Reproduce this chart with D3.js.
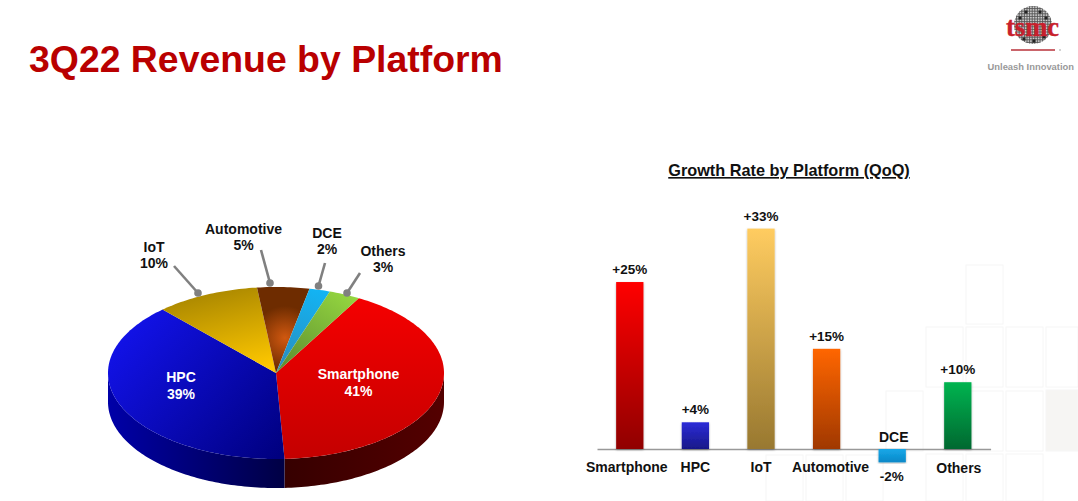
<!DOCTYPE html>
<html>
<head>
<meta charset="utf-8">
<script src="https://cdn.jsdelivr.net/npm/d3@7"></script>
<style>
  html, body { margin: 0; padding: 0; background: #fff; }
  svg { display: block; }
  text { font-family: "Liberation Sans", Arial, sans-serif; font-weight: bold; fill: #111; }
</style>
</head>
<body>
<svg width="1078" height="501"></svg>
<script>
// Chart data
const platforms = ['Smartphone', 'HPC', 'IoT', 'Automotive', 'DCE', 'Others']
const revenueShare = [41, 39, 10, 5, 2, 3]
const growthQoQ = [25, 4, 33, 15, -2, 10]
const growthLabels = ['+25%', '+4%', '+33%', '+15%', '-2%', '+10%']

// Pie colours per platform
const pieTop = [
  ['#f80000', '#c40000'], ['#1414f4', '#000080'], ['#b08c00', '#ffc800'],
  ['#6e2c00', '#d05810'], ['#12b4f4', '#2a8cbc'], ['#96d840', '#5c8c30']
]
const pieWall = [
  ['#540000', '#360000'], ['#000044', '#0000a8'], ['#806000', '#806000'],
  ['#501800', '#501800'], ['#0870a0', '#0870a0'], ['#407020', '#407020']
]
const barColors = [
  ['#ff0000', '#900000'], ['#2c2cd8', '#181888'], ['#ffcc60', '#987830'],
  ['#ff6600', '#a03800'], ['#18a8e8', '#0888c8'], ['#00b450', '#006830']
]

const svg = d3.select('svg')
const defs = svg.append('defs')

defs.append('filter').attr('id', 'barShadow')
  .attr('x', '-20%').attr('y', '-5%').attr('width', '140%').attr('height', '115%')
  .append('feDropShadow')
  .attr('dx', 0).attr('dy', 1).attr('stdDeviation', 1.2)
  .attr('flood-color', '#000').attr('flood-opacity', 0.3)

function addGradient(id, stops, x1, y1, x2, y2) {
  const g = defs.append('linearGradient').attr('id', id)
    .attr('gradientUnits', 'userSpaceOnUse')
    .attr('x1', x1).attr('y1', y1).attr('x2', x2).attr('y2', y2)
  g.append('stop').attr('offset', 0).attr('stop-color', stops[0])
  g.append('stop').attr('offset', 1).attr('stop-color', stops[1])
}

// Faint background tiles, bottom right
const tiles = [
  [966, 265, 37, 59],
  [926, 327, 37, 60], [966, 327, 37, 60], [1006, 327, 37, 60], [1046, 327, 32, 60],
  [886, 391, 37, 60], [966, 391, 37, 60], [1006, 391, 37, 60], [1046, 390, 32, 61],
  [766, 455, 37, 46], [806, 455, 37, 46], [846, 455, 37, 46], [926, 454, 37, 47],
  [966, 454, 37, 47], [1006, 454, 37, 47]
]
svg.append('g').selectAll('rect').data(tiles).join('rect')
  .attr('x', (d) => d[0]).attr('y', (d) => d[1])
  .attr('width', (d) => d[2]).attr('height', (d) => d[3])
  .attr('fill', (d) => (d[0] === 1046 && d[1] === 390 ? '#f6f5f3' : '#fff'))
  .attr('stroke', '#f6f6f6').attr('stroke-width', 1)

// Title
svg.append('text').attr('x', 29).attr('y', 72)
  .style('font-size', '37.4px').style('fill', '#b90000')
  .text('3Q22 Revenue by Platform')

// Logo
const logo = svg.append('g')
defs.append('clipPath').attr('id', 'waferClip')
  .append('circle').attr('cx', 1033).attr('cy', 25).attr('r', 19)
const wafer = logo.append('g').attr('clip-path', 'url(#waferClip)')
wafer.append('circle').attr('cx', 1033).attr('cy', 25).attr('r', 19).attr('fill', '#cfcfcf')
wafer.selectAll('line.v').data(d3.range(1014, 1053, 2.6)).join('line')
  .attr('x1', (d) => d).attr('x2', (d) => d).attr('y1', 6).attr('y2', 44)
  .attr('stroke', '#555').attr('stroke-width', 0.9)
wafer.selectAll('line.h').data(d3.range(6, 45, 2.6)).join('line')
  .attr('x1', 1014).attr('x2', 1052).attr('y1', (d) => d).attr('y2', (d) => d)
  .attr('stroke', '#555').attr('stroke-width', 0.9)
const dies = [[1026, 12], [1040, 12], [1020, 18], [1046, 18], [1024, 39], [1034, 41], [1044, 37]]
wafer.selectAll('rect').data(dies).join('rect')
  .attr('x', (d) => d[0] - 1.5).attr('y', (d) => d[1] - 1.5)
  .attr('width', 3).attr('height', 3).attr('fill', '#222')
logo.append('text').attr('x', 1032.5).attr('y', 36).attr('text-anchor', 'middle')
  .attr('textLength', 53).attr('lengthAdjust', 'spacingAndGlyphs')
  .style('font-family', '"Liberation Serif", serif').style('font-size', '27px')
  .style('fill', '#c8202c').style('stroke', '#c8202c').style('stroke-width', 0.4)
  .text('tsmc')
logo.append('line').attr('x1', 1011).attr('x2', 1055).attr('y1', 50).attr('y2', 50)
  .attr('stroke', '#b8323a').attr('stroke-width', 1.6)
logo.append('circle').attr('cx', 1060).attr('cy', 50).attr('r', 0.8).attr('fill', '#999')
logo.append('text').attr('x', 1074).attr('y', 69.5).attr('text-anchor', 'end')
  .style('font-size', '9.4px').style('fill', '#999')
  .text('Unleash Innovation')

// 3D pie
const cx = 276, cy = 373, rx = 168, ry = 86, depth = 29
const rad = (deg) => (deg * Math.PI) / 180
const startAngle = rad(29.5)
const pie = d3.pie().sort(null).startAngle(startAngle).endAngle(startAngle + 2 * Math.PI)
const slices = pie(revenueShare)

const rimX = (a) => cx + rx * Math.sin(a)
const rimY = (a) => cy - ry * Math.cos(a)

// side wall: only the part of a slice facing the viewer
const pieG = svg.append('g')
slices.forEach((s, i) => {
  const a0 = Math.max(s.startAngle, Math.PI / 2)
  const a1 = Math.min(s.endAngle, (3 * Math.PI) / 2)
  if (a1 <= a0) return
  addGradient('wall' + i, pieWall[i], rimX(a0), 0, rimX(a1), 0)
  const angles = d3.range(a0, a1, 0.02).concat([a1])
  const upper = angles.map((a) => [rimX(a), rimY(a)])
  const lower = angles.slice().reverse().map((a) => [rimX(a), rimY(a) + depth])
  pieG.append('path')
    .attr('d', d3.line()(upper.concat(lower)) + 'Z')
    .attr('fill', `url(#wall${i})`)
})

// top face gradients, in screen space
const gradientEnds = [
  [0, cy - ry, 0, cy + ry],
  [cx - rx, cy - 60, cx, cy + ry],
  [cx - 30, cy - ry, cx - 10, cy - 5],
  null, [310, cy - ry, 285, cy], [345, cy - ry, 285, cy]
]
slices.forEach((s, i) => {
  if (platforms[i] === 'Automotive') {
    const g = defs.append('radialGradient').attr('id', 'top' + i)
      .attr('gradientUnits', 'userSpaceOnUse')
      .attr('cx', 285).attr('cy', 338).attr('r', 32)
    g.append('stop').attr('offset', 0).attr('stop-color', pieTop[i][1])
    g.append('stop').attr('offset', 1).attr('stop-color', pieTop[i][0])
  } else {
    const e = gradientEnds[i]
    addGradient('top' + i, pieTop[i], e[0], e[1], e[2], e[3])
  }
})
slices.forEach((s, i) => {
  const angles = d3.range(s.startAngle, s.endAngle, 0.02).concat([s.endAngle])
  const pts = [[cx, cy]].concat(angles.map((a) => [rimX(a), rimY(a)]))
  pieG.append('path')
    .attr('d', d3.line()(pts) + 'Z')
    .attr('fill', `url(#top${i})`)
})

// Pie labels
const pieLabelPos = [[358.5, 379], [181, 382], [154, 251.5], [243.5, 234], [327, 238], [383, 256]]
const pieLabels = svg.append('g').style('font-size', '14px').attr('text-anchor', 'middle')
platforms.forEach((name, i) => {
  const white = i < 2
  const t = pieLabels.append('text').attr('y', pieLabelPos[i][1])
    .style('fill', white ? '#fff' : '#111')
  t.append('tspan').attr('x', pieLabelPos[i][0]).text(name)
  t.append('tspan').attr('x', pieLabelPos[i][0]).attr('dy', white ? 17 : 16).text(revenueShare[i] + '%')
})

// Leader lines, [from x, from y, dot x, dot y] in the order IoT, Automotive, DCE, Others
const leaders = [[174, 266, 198, 293], [261, 250, 270, 283], [325, 263, 318.5, 286], [360, 273, 347, 293]]
const leaderG = svg.append('g')
leaderG.selectAll('line').data(leaders).join('line')
  .attr('x1', (d) => d[0]).attr('y1', (d) => d[1]).attr('x2', (d) => d[2]).attr('y2', (d) => d[3])
  .attr('stroke', '#808080').attr('stroke-width', 2.6)
leaderG.selectAll('circle').data(leaders).join('circle')
  .attr('cx', (d) => d[2]).attr('cy', (d) => d[3]).attr('r', 3.8).attr('fill', '#808080')

// Growth chart
svg.append('text').attr('x', 789).attr('y', 176).attr('text-anchor', 'middle')
  .style('font-size', '16.3px').style('text-decoration', 'underline')
  .text('Growth Rate by Platform (QoQ)')

const x = d3.scaleBand().domain(platforms).range([597, 990.6]).paddingInner(0.584).paddingOuter(0.292)
const y = d3.scaleLinear().domain([0, 33]).range([449, 228.6])

// tick label nudges, the original labels are placed by hand
const tickNudge = { Smartphone: [-3, 467], HPC: [0, 467], IoT: [0, 467], Automotive: [4, 467], DCE: [1.5, 437], Others: [1, 468] }

const axis = svg.append('g').attr('transform', `translate(0,${y(0)})`)
  .call(d3.axisBottom(x).tickSize(0).tickSizeOuter(0))
axis.select('.domain').attr('stroke', '#999').attr('stroke-width', 1.5)
axis.selectAll('text')
  .attr('dy', null)
  .attr('x', (d) => tickNudge[d][0])
  .attr('y', (d) => tickNudge[d][1] + 5 - y(0))
  .style('font-size', '14px')
  .style('font-family', '"Liberation Sans", Arial, sans-serif')
  .style('fill', '#111')

platforms.forEach((name, i) => {
  addGradient('bar' + i, barColors[i], 0, y(Math.max(growthQoQ[i], 0)), 0, y(Math.min(growthQoQ[i], 0)))
})

svg.append('g').selectAll('rect').data(growthQoQ).join('rect')
  .attr('x', (d, i) => x(platforms[i]))
  .attr('y', (d) => y(Math.max(d, 0)))
  .attr('width', x.bandwidth())
  .attr('height', (d) => Math.abs(y(d) - y(0)))
  .attr('fill', (d, i) => `url(#bar${i})`)
  .attr('filter', 'url(#barShadow)')

svg.append('g').attr('text-anchor', 'middle').style('font-size', '13.5px')
  .selectAll('text').data(growthQoQ).join('text')
  .attr('x', (d, i) => x(platforms[i]) + x.bandwidth() / 2 - (d < 0 ? 0.5 : 0))
  .attr('y', (d) => (d < 0 ? y(d) + 19 : y(d) - 8))
  .text((d, i) => growthLabels[i])
</script>
</body>
</html>
